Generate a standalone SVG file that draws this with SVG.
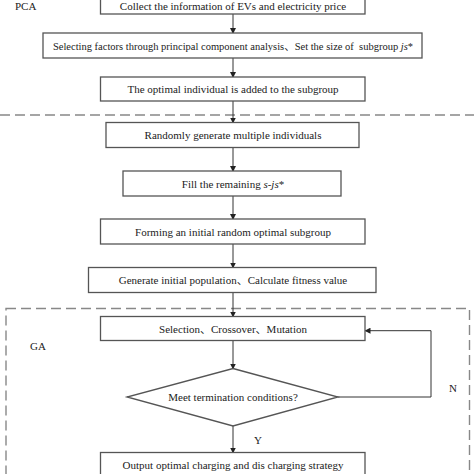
<svg xmlns="http://www.w3.org/2000/svg" width="474" height="474" viewBox="0 0 474 474">
<style>
.box{fill:#fff;stroke:#555;stroke-width:1.3}
.dash{fill:none;stroke:#888;stroke-width:1.4;stroke-dasharray:10 5}
.t{font-family:"Liberation Serif","Noto Sans CJK SC",serif;font-size:11px;fill:#222;text-anchor:middle}
.lbl{font-family:"Liberation Serif","Noto Sans CJK SC",serif;font-size:11px;fill:#222}
.c{fill:none;stroke:#333;stroke-width:1;marker-end:url(#ah)}
.i{font-style:italic}
</style>
<defs>
<marker id="ah" markerWidth="6" markerHeight="6" refX="5" refY="3" orient="auto" markerUnits="userSpaceOnUse">
<path d="M0,0 L6,3 L0,6 Z" fill="#222"/>
</marker>
</defs>
<rect width="474" height="474" fill="#fff"/>
<g id="regions">
<line class="dash" x1="0" y1="115" x2="474" y2="115"/>
<rect class="dash" x="6" y="308.5" width="463.5" height="190"/>
<text class="lbl" x="15" y="10">PCA</text>
<text class="lbl" x="30" y="350">GA</text>
</g>
<g id="connectors">
<line class="c" x1="233" y1="14" x2="233" y2="33"/>
<line class="c" x1="233" y1="58" x2="233" y2="77"/>
<line class="c" x1="233" y1="101" x2="233" y2="122.5"/>
<line class="c" x1="233" y1="147.5" x2="233" y2="171"/>
<line class="c" x1="233" y1="196" x2="233" y2="219"/>
<line class="c" x1="233" y1="244" x2="233" y2="267.5"/>
<line class="c" x1="233" y1="292.5" x2="233" y2="316.5"/>
<line class="c" x1="233" y1="340.5" x2="233" y2="368.5"/>
<line class="c" x1="233" y1="426" x2="233" y2="452.5"/>
<polyline class="c" points="338,397 431,397 431,330.7 365.5,330.7"/>
<text class="lbl" x="254" y="444">Y</text>
<text class="lbl" x="449" y="392">N</text>
</g>
<g id="n1">
<rect class="box" x="100.5" y="-10" width="264.5" height="24"/>
<text class="t" x="233" y="10">Collect the information of EVs and electricity price</text>
</g>
<g id="n2">
<rect class="box" x="43" y="33" width="379" height="25"/>
<text class="t" x="233" y="50" style="font-size:10.5px">Selecting factors through principal component analysis、Set the size of&#160; subgroup <tspan class="i">js</tspan>*</text>
</g>
<g id="n3">
<rect class="box" x="100.5" y="77" width="264.5" height="24"/>
<text class="t" x="233" y="93">The optimal individual is added to the subgroup</text>
</g>
<g id="n4">
<rect class="box" x="106" y="122.5" width="253" height="25"/>
<text class="t" x="233" y="139">Randomly generate multiple individuals</text>
</g>
<g id="n5">
<rect class="box" x="123" y="171" width="218" height="25"/>
<text class="t" x="233" y="187.5">Fill the remaining <tspan class="i">s-js</tspan>*</text>
</g>
<g id="n6">
<rect class="box" x="100.5" y="219" width="264.5" height="25"/>
<text class="t" x="233" y="235.5">Forming an initial random optimal subgroup</text>
</g>
<g id="n7">
<rect class="box" x="88.5" y="267.5" width="287.5" height="25"/>
<text class="t" x="233" y="284">Generate initial population、Calculate fitness value</text>
</g>
<g id="n8">
<rect class="box" x="100.5" y="316.5" width="264.5" height="24"/>
<text class="t" x="233" y="332.5">Selection、Crossover、Mutation</text>
</g>
<g id="n9">
<polygon class="box" points="233,368.5 338,397 233,426 127,397"/>
<text class="t" x="233" y="401">Meet termination conditions?</text>
</g>
<g id="n10">
<rect class="box" x="100.5" y="452.5" width="264.5" height="30"/>
<text class="t" x="233" y="469">Output optimal charging and dis charging strategy</text>
</g>
</svg>
